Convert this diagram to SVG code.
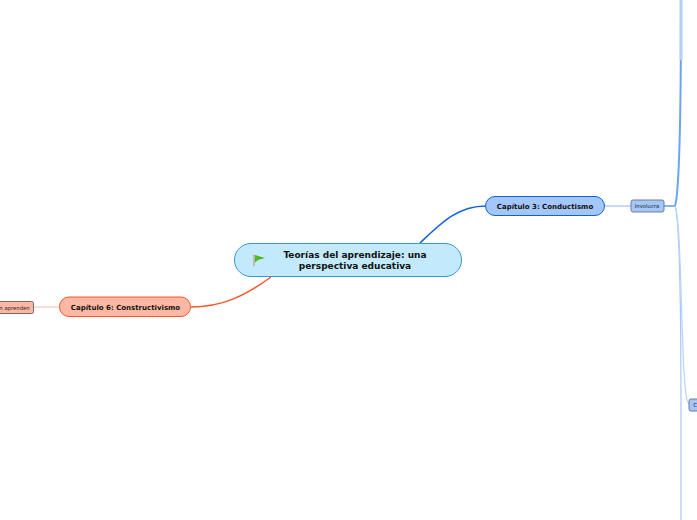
<svg xmlns="http://www.w3.org/2000/svg" width="697" height="520" viewBox="0 0 697 520">
<style>
text{font-family:"DejaVu Sans","Verdana",sans-serif;text-anchor:middle;fill:#111}
.b{font-weight:bold}
.main{font-size:9px}
.cap{font-size:7px}
.sub{font-size:5.300px;fill:#222}
.small{fill:#a3c6fb;stroke:#6f7c90;stroke-width:1}
.c{fill:none}
</style>
<rect width="697" height="520" fill="#fff"/>
<g id="connectors" class="c">
<path d="M420 243C442 222 458 206 486 206" stroke="#0f62d6" stroke-width="1.500"/>
<path d="M271 277C245 296 222 307 191 307" stroke="#f9562a" stroke-width="1.500"/>
<path d="M605 206H631" stroke="#8db4ee" stroke-width="1"/>
<path d="M34 307H59" stroke="#fbbcaa" stroke-width="1"/>
<path d="M664 206H675" stroke="#0f62d6" stroke-width="1"/>
<path d="M675 206C680 190 681 110 681 0" stroke="#6fa3ef" stroke-width="2"/>
<path d="M681 60V0" stroke="#b3cff7" stroke-width="3"/>
<path d="M675 206C679 216 681 300 681 420V520" stroke="#a9c8f6" stroke-width="1.200"/>
<path d="M675 206C683 225 680 400 689 404" stroke="#b8d1f7" stroke-width="1.200"/>
</g>
<g id="root">
<rect x="234.500" y="243.500" width="227" height="33" rx="16.500" fill="#c2e9fc" stroke="#3d98da"/>
<path d="M254 254.500V266" stroke="#bbb" stroke-width="2"/>
<path d="M255 255L265 258L258 260L255 262.500Z" fill="#4db81f"/>
<text class="b main" x="355" y="258">Teorías del aprendizaje: una</text>
<text class="b main" x="355" y="269">perspectiva educativa</text>
</g>
<g id="cap3">
<rect x="485.500" y="196.500" width="119" height="19" rx="9.500" fill="#a3c6fb" stroke="#0f62d6"/>
<text class="b cap" x="545" y="209">Capítulo 3: Conductismo</text>
</g>
<g id="cap6">
<rect x="59.500" y="297" width="131" height="19.500" rx="9.500" fill="#fdb8a3" stroke="#f9562a"/>
<text class="b cap" x="125.500" y="310">Capítulo 6: Constructivismo</text>
</g>
<g id="involucra">
<rect class="small" x="631" y="200" width="33" height="12" rx="2"/>
<text class="sub" x="647" y="208">Involucra</text>
</g>
<g id="aprenden">
<rect x="-20" y="301.500" width="53.500" height="12" rx="2" fill="#fdb8a3" stroke="#7a6a66"/>
<text class="sub" x="14.500" y="309.500">n aprenden</text>
</g>
<g id="right-node">
<rect class="small" x="689" y="399" width="20" height="12" rx="2"/>
<text class="sub" x="695" y="407">C</text>
</g>
</svg>
